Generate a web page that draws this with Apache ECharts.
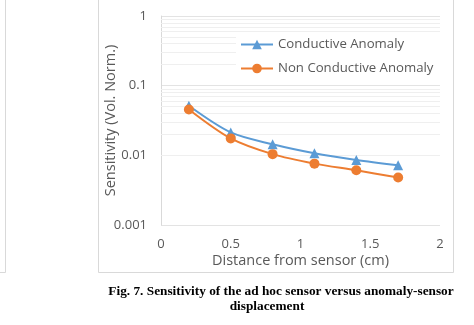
<!DOCTYPE html>
<html><head><meta charset="utf-8">
<script src="https://cdn.jsdelivr.net/npm/echarts@6/dist/echarts.min.js"></script>
<style>html,body{margin:0;padding:0;background:#fff;}#c{width:474px;height:325px;}</style>
</head><body><div id="c"></div>
<script>
const distances = [0.2, 0.5, 0.8, 1.1, 1.4, 1.7];
const conductive = [0.0514, 0.0213, 0.0144, 0.0107, 0.0086, 0.0072];
const nonConductive = [0.0456, 0.0175, 0.0104, 0.0076, 0.0061, 0.0048];
const seriesNames = ['Conductive Anomaly', 'Non Conductive Anomaly'];
const minorGrid = [0.002,0.003,0.004,0.005,0.006,0.007,0.008,0.009,0.02,0.03,0.04,0.05,0.06,0.07,0.08,0.09,0.2,0.3,0.4,0.5,0.6,0.7,0.8,0.9];
const xAxisName = 'Distance from sensor (cm)';
const yAxisName = 'Sensitivity (Vol. Norm.)';
const captionLines = ['Fig. 7. Sensitivity of the ad hoc sensor versus anomaly-sensor', 'displacement'];

const chart = echarts.init(document.getElementById('c'), null, {renderer: 'canvas'});
const font = '"Open Sans", sans-serif';
chart.setOption({
  animation: false,
  backgroundColor: '#fff',
  grid: {left: 161, right: 34, top: 16, bottom: 100},
  xAxis: {
    type: 'value', min: 0, max: 2, interval: 0.5,
    name: xAxisName, nameLocation: 'middle', nameGap: 28, nameMoveOverlap: false,
    nameTextStyle: {color: '#595959', fontSize: 14.5, fontFamily: font},
    axisLine: {show: false}, axisTick: {show: false}, splitLine: {show: false},
    axisLabel: {color: '#595959', fontSize: 13, fontFamily: font, margin: 13}
  },
  yAxis: {
    type: 'log', logBase: 10, min: 0.001, max: 1,
    name: yAxisName, nameLocation: 'middle', nameGap: 43, nameMoveOverlap: false,
    nameTextStyle: {color: '#595959', fontSize: 14.5, fontFamily: font},
    axisLine: {show: true, lineStyle: {color: '#d9d9d9', width: 1}},
    axisTick: {show: false},
    splitLine: {show: true, lineStyle: {color: '#e3e3e3', width: 1}},
    axisLabel: {color: '#595959', fontSize: 13, fontFamily: font, margin: 14}
  },
  legend: {
    orient: 'vertical', left: 236, top: 35, z: 50, zlevel: 1,
    padding: [3, 7, 5, 4],
    backgroundColor: '#ffffff',
    itemWidth: 32, itemHeight: 12, itemGap: 11,
    textStyle: {color: '#595959', fontSize: 13.2, fontFamily: font},
    data: seriesNames
  },
  series: [
    {
      name: 'minor', type: 'line', data: [], silent: true, legendHoverLink: false, z: 1,
      markLine: {silent: true, symbol: 'none', label: {show: false}, z: 1,
        lineStyle: {color: '#efefef', type: 'solid', width: 1},
        data: minorGrid.map(v => ({yAxis: v}))}
    },
    {
      name: seriesNames[0], type: 'line', smooth: 0.3,
      data: distances.map((d, i) => [d, conductive[i]]),
      symbol: 'triangle', symbolSize: 10,
      itemStyle: {color: '#5B9BD5'}, lineStyle: {color: '#5B9BD5', width: 2}
    },
    {
      name: seriesNames[1], type: 'line', smooth: 0.3,
      data: distances.map((d, i) => [d, nonConductive[i]]),
      symbol: 'circle', symbolSize: 10,
      itemStyle: {color: '#ED7D31'}, lineStyle: {color: '#ED7D31', width: 2}
    }
  ],
  graphic: [
    {type: 'rect', shape: {x: 98.5, y: -5, width: 355, height: 277.5}, style: {fill: 'none', stroke: '#d9d9d9', lineWidth: 1}, z: -1},
    {type: 'rect', shape: {x: -10, y: -5, width: 15.5, height: 277.5}, style: {fill: 'none', stroke: '#d9d9d9', lineWidth: 1}, z: -1},
    {type: 'text', x: 281, y: 292, style: {text: captionLines[0], font: 'bold 13.3px "Liberation Serif", serif', fill: '#000', textAlign: 'center', textVerticalAlign: 'middle'}},
    {type: 'text', x: 267, y: 307, style: {text: captionLines[1], font: 'bold 13.3px "Liberation Serif", serif', fill: '#000', textAlign: 'center', textVerticalAlign: 'middle'}}
  ]
});
</script></body></html>
